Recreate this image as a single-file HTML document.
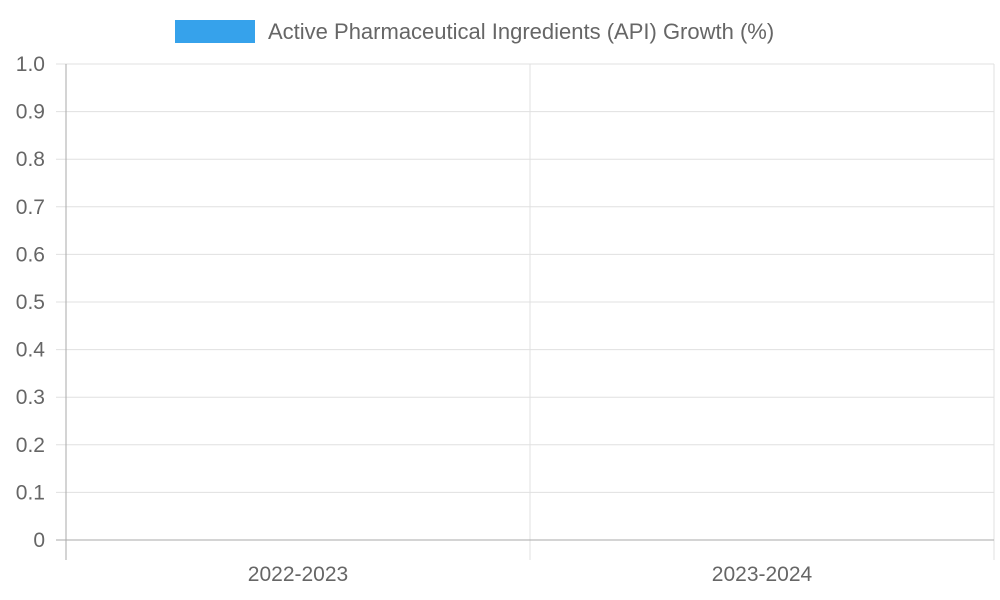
<!DOCTYPE html>
<html><head><meta charset="utf-8"><style>
html,body{margin:0;padding:0;background:#fff;}
svg{display:block;font-family:"Liberation Sans",sans-serif;}
</style></head><body>
<svg id="chart" width="1000" height="600"></svg>
<script>
const categories = ["2022-2023", "2023-2024"];
const seriesValues = [0, 0];
const yTickLabels = ["0", "0.1", "0.2", "0.3", "0.4", "0.5", "0.6", "0.7", "0.8", "0.9", "1.0"];
const yTickValues = [0, 0.1, 0.2, 0.3, 0.4, 0.5, 0.6, 0.7, 0.8, 0.9, 1.0];
const seriesName = "Active Pharmaceutical Ingredients (API) Growth (%)";

const svg = document.getElementById('chart');
const NS = 'http://www.w3.org/2000/svg';
const L = 66, R = 994, T = 64, B = 540, yMin = 0, yMax = 1;
function yScale(v){ return B - (v - yMin) / (yMax - yMin) * (B - T); }
const bandW = (R - L) / categories.length;
function xBand(i){ return L + i * bandW; }
function mk(tag, attrs){ const e = document.createElementNS(NS, tag); for (const k in attrs) e.setAttribute(k, attrs[k]); svg.appendChild(e); return e; }

// horizontal grid lines + y ticks
yTickValues.forEach((v, i) => {
  const y = yScale(v);
  const g = mk('line', {x1: L - 10, x2: R, y1: y, y2: y, stroke: v === 0 ? '#aaa' : '#e0e0e0', 'stroke-width': 1});
  
  
  const t = mk('text', {x: 45, y: y + 7, 'text-anchor': 'end', 'font-size': 21, fill: '#666'});
  t.textContent = yTickLabels[i];
  
  
});

// vertical grid lines
for (let i = 0; i <= categories.length; i++) {
  const x = xBand(i);
  const g = mk('line', {x1: x, x2: x, y1: T, y2: B + 20, stroke: i === 0 ? '#aaa' : '#e0e0e0', 'stroke-width': 1});
  
  
}

// bars and x labels
categories.forEach((c, i) => {
  const x0 = xBand(i) + bandW * 0.1, w = bandW * 0.8;
  const y = yScale(seriesValues[i]);
  const bar = mk('rect', {x: x0, y: Math.min(y, yScale(0)), width: w, height: Math.abs(yScale(0) - y), fill: '#36a2eb'});
  
  
  const t = mk('text', {x: xBand(i) + bandW / 2, y: 581, 'text-anchor': 'middle', 'font-size': 21, fill: '#666'});
  t.textContent = c;
  
  
});

// x axis line
const xa = mk('line', {x1: L, x2: R, y1: B, y2: B, stroke: '#aaa', 'stroke-width': 1});



// legend
const lb = mk('rect', {x: 175, y: 20, width: 80, height: 23, fill: '#36a2eb'});


const lt = mk('text', {x: 268, y: 39, 'font-size': 22, fill: '#666'});
lt.textContent = seriesName;


</script>
</body></html>
